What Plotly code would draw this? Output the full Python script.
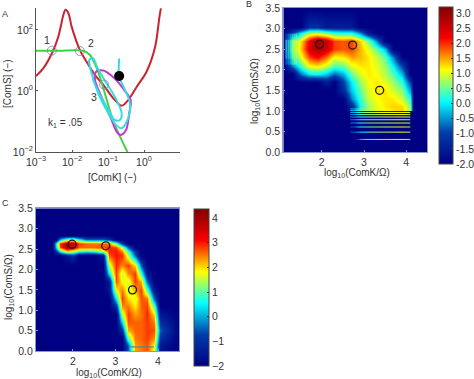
import numpy as np
import plotly.graph_objects as go

W, H = 474, 379
FONT = "Liberation Sans"
TXT = "#333333"

# ---------- Panel A (log10 decades)
red_lx = [-3.00,-2.80,-2.56,-2.38,-2.24,-2.18,-2.10,-2.01,-1.78,-1.57,-1.36,-1.13,-0.85,-0.62,-0.44,-0.20,0.07,0.31,0.43,0.47]
red_ly = [0.49,0.74,1.23,1.78,2.49,2.66,2.55,2.11,1.34,0.91,0.52,0.20,-0.24,-0.48,-0.30,0.14,0.63,1.45,2.44,2.71]
green_lx = [-3.0,-2.4,-1.69,-1.5,-1.31,-1.13,-0.85,-0.46]
green_ly = [1.32,1.32,1.32,1.18,0.74,0.09,-1.0,-2.0]
cyan_lx = [-0.69,-0.69,-0.57,-0.39,-0.44,-0.62,-0.78,-0.99,-1.27,-1.48,-1.52,-1.41,-1.31,-1.04,-0.81,-0.62,-0.67,-0.81,-0.99,-1.22,-1.41,-1.43]
cyan_ly = [1.07,0.47,0.14,-0.40,-0.90,-1.22,-1.11,-0.73,-0.08,0.69,1.02,1.07,0.80,0.25,-0.19,-0.73,-0.95,-0.95,-0.62,-0.13,0.36,0.58]
mag_lx = [-0.37,-0.41,-0.50,-0.65,-0.76,-0.94,-1.18,-1.36,-1.33,-1.13,-0.85,-0.69,-0.53,-0.37]
mag_ly = [-0.30,-0.73,-1.28,-1.44,-1.33,-0.84,-0.19,0.36,0.63,0.67,0.45,0.25,0.0,-0.30]
dot_lx = [-0.69]
dot_ly = [0.49]
ring_lx = [-2.56,-1.78,-1.11]
ring_ly = [1.32,1.31,0.21]
a_tick_x = [-3,-2,-1,0]
a_tick_y = [-2,0,2]

# ---------- Panel B
b_x = [1.1,1.3,1.5,1.7,1.9,2.1,2.3,2.5,2.7,2.9,3.1,3.3,3.5,3.7,3.9,4.1,4.17,4.5]
b_y = [0.0,1.0,1.02,1.1,1.3,1.5,1.7,1.9,2.1,2.3,2.5,2.7,2.9,3.05,3.5]
b_z = [
 [-2,-2,-2,-2,-2,-2,-2,-2,-2,-2,-2,-2,-2,-2,-2,-2,-2,-2],
 [-2,-2,-2,-2,-2,-2,-2,-2,-2,-2,-2,-2,-2,-2,-2,-2,-2,-2],
 [-2,-2,-2,-2,-2,-2,-2,-2,-1.5,0.1,0.7,1.0,1.2,1.3,1.3,0.6,-2,-2],
 [-2,-2,-2,-2,-2,-2,-2,-2,-1.5,0.1,0.7,1.0,1.2,1.3,1.3,0.6,-2,-2],
 [-2,-2,-2,-2,-2,-2,-2,-2,-0.6,0.3,0.9,1.1,1.2,1.2,0.9,0.2,-2,-2],
 [-2,-2,-2,-2,-2,-2,-2,-1.2,-0.2,0.5,1.0,1.2,1.2,0.9,0.6,-0.5,-2,-2],
 [-2,-2,-2,-2,-2,-1.5,-2,-1,0,0.7,1.1,1.2,1.0,0.7,0.2,-1,-2,-2],
 [-2,-2,-0.7,0,0.1,-0.2,-0.7,-0.3,0.5,1.0,1.2,1.1,0.8,0.4,-0.3,-2,-2,-2],
 [-2,-0.6,0.3,1.1,1.2,0.9,0.4,0.5,1.0,1.2,1.2,1.0,0.7,0,-1,-2,-2,-2],
 [-2,0,1.0,1.9,2.2,1.7,1.1,1.2,1.5,1.4,1.2,0.9,0.4,-0.6,-2,-2,-2,-2],
 [-2,0.3,1.3,2.4,2.8,2.5,1.9,1.8,1.9,1.4,1.0,0.5,-0.3,-2,-2,-2,-2,-2],
 [-2,0.3,1.2,2.3,2.9,2.6,1.9,1.8,1.9,1.3,0.6,-0.5,-2,-2,-2,-2,-2,-2],
 [-2,-1,0,0.8,0.9,0.6,0.3,0.2,0.2,-0.5,-1.5,-2,-2,-2,-2,-2,-2,-2],
 [-2,-2,-2,-1.2,-1.2,-1.5,-1.5,-1.5,-1.5,-2,-2,-2,-2,-2,-2,-2,-2,-2],
 [-2,-2,-2,-2,-2,-2,-2,-2,-2,-2,-2,-2,-2,-2,-2,-2,-2,-2],
]
b_band_x = [2.75,2.9,3.1,3.3,3.5,3.7,3.9,4.03]
b_band_y = [0.30,0.477,0.602,0.699,0.778,0.845,0.903,0.954,1.0,1.04]
b_band_z = [
 [-2,-0.3,0.3,0.5,0.6,0.8,1.1,0.7],
 [-0.8,0.0,0.4,0.6,0.7,0.9,1.2,0.8],
 [-0.8,0.2,0.5,0.7,0.8,0.9,1.1,0.8],
 [-0.6,0.3,0.5,0.7,0.8,0.9,1.0,0.8],
 [-0.6,0.2,0.6,0.7,0.8,1.0,1.1,0.8],
 [-0.5,0.3,0.6,0.8,0.9,1.0,1.1,0.9],
 [-0.5,0.3,0.7,0.8,1.0,1.0,1.1,0.9],
 [-0.4,0.4,0.8,1.0,1.0,1.1,1.2,0.9],
 [-0.3,0.5,0.8,1.0,1.1,1.2,1.3,0.9],
 [-0.3,0.5,0.8,1.0,1.1,1.2,1.3,0.9],
]
b_stripe_x = [1.17,1.22,1.27,1.32,1.37,1.41]
b_stripe_y = [2.2,2.35,2.5,2.65,2.8]
b_stripe_z = [
 [-0.6,-0.4,-0.2,0.3,0.8,0.7],
 [0.0,0.1,0.2,0.8,1.0,0.9],
 [0.2,0.3,0.4,0.9,1.1,1.0],
 [0.2,0.3,0.4,0.9,1.1,1.0],
 [-0.8,-0.6,-0.2,0.2,0.5,0.5],
]
b_ring_x = [1.95,2.73,3.37]
b_ring_y = [2.62,2.60,1.50]
b_cb_ticks = [3.0,2.5,2.0,1.5,1.0,0.5,0.0,-0.5,-1.0,-1.5,-2.0]

# ---------- Panel C
c_x = [1.1,1.5,1.6,1.7,1.85,2.0,2.15,2.3,2.5,2.7,2.85,3.0,3.15,3.3,3.45,3.6,3.75,3.9,4.05,4.5]
c_y = [0.0,0.15,0.3,0.5,0.7,0.9,1.1,1.3,1.5,1.7,1.9,2.1,2.35,2.45,2.55,2.65,2.75,2.85,3.5]
c_z = [
 [-2,-2,-2,-2,-2,-2,-2,-2,-2,-2,-2,-2,-2,-0.5,2.3,2.5,2.7,1.8,-1.5,-2],
 [-2,-2,-2,-2,-2,-2,-2,-2,-2,-2,-2,-2,-2,-0.5,2.3,2.5,2.7,1.8,-1.5,-2],
 [-2,-2,-2,-2,-2,-2,-2,-2,-2,-2,-2,-2,-2,1.0,2.5,2.6,2.8,2.4,-1,-2],
 [-2,-2,-2,-2,-2,-2,-2,-2,-2,-2,-2,-2,-1,2.2,2.6,2.6,2.8,2.7,-0.5,-2],
 [-2,-2,-2,-2,-2,-2,-2,-2,-2,-2,-2,-2,0.3,2.7,2.6,2.6,2.8,2.5,-1,-2],
 [-2,-2,-2,-2,-2,-2,-2,-2,-2,-2,-2,-2,1.5,2.8,2.3,2.5,2.9,2.0,-1.5,-2],
 [-2,-2,-2,-2,-2,-2,-2,-2,-2,-2,-2,-1,2.4,2.5,1.9,2.6,2.8,1.0,-2,-2],
 [-2,-2,-2,-2,-2,-2,-2,-2,-2,-2,-2,0.5,2.8,2.0,1.6,2.7,2.5,-0.5,-2,-2],
 [-2,-2,-2,-2,-2,-2,-2,-2,-2,-2,-1.5,1.8,2.5,1.5,2.2,2.8,1.0,-1.5,-2,-2],
 [-2,-2,-2,-2,-2,-2,-2,-2,-2,-2,-1.5,2.7,1.8,1.6,2.8,2.2,-0.5,-2,-2,-2],
 [-2,-2,-2,-2,-2,-2,-2,-2,-2,-2,0.5,2.8,1.5,2.4,2.8,0.8,-1.5,-2,-2,-2],
 [-2,-2,-2,-2,-2,-2,-2,-2,-2,-2,1.5,2.9,2.4,2.8,2.0,-0.5,-2,-2,-2,-2],
 [-2,-2,-2,-2,-1.5,-1,-2,-2,-2,-1.5,2.7,3.0,2.9,1.5,-0.5,-2,-2,-2,-2,-2],
 [-2,-2,-1,0.5,2.0,1.5,0.8,0.5,0.7,1.5,2.9,3.0,2.5,0.8,-1,-2,-2,-2,-2,-2],
 [-2,-2,0.3,2.7,3.9,3.6,2.6,2.6,2.6,2.7,2.9,2.8,1.5,-0.5,-2,-2,-2,-2,-2,-2],
 [-2,-2,0.5,2.9,3.9,3.7,2.8,2.6,2.5,2.6,2.5,1.0,-1,-2,-2,-2,-2,-2,-2,-2],
 [-2,-2,-2,0,1.3,1.5,0.5,-0.5,-0.5,-0.5,-1,-2,-2,-2,-2,-2,-2,-2,-2,-2],
 [-2,-2,-2,-2,-2,-2,-2,-2,-2,-2,-2,-2,-2,-2,-2,-2,-2,-2,-2,-2],
 [-2,-2,-2,-2,-2,-2,-2,-2,-2,-2,-2,-2,-2,-2,-2,-2,-2,-2,-2,-2],
]
c_ring_x = [1.98,2.77,3.40]
c_ring_y = [2.62,2.58,1.50]
c_bar_x = [3.35,3.9]
c_bar_y = [0.1,0.1]
c_cb_ticks = [4,3,2,1,0,-1,-2]
c_cb_text = ["4","3","2","1","0","\u22121","\u22122"]
heat_ticks_x = [2,3,4]
heat_ticks_y = [0,0.5,1.0,1.5,2.0,2.5,3.0,3.5]


def dom_x(a, b):
    return [a / W, b / W]


def dom_y(top, bottom):
    return [1 - bottom / H, 1 - top / H]


def cbar(left, top, bottom, thick, vals, text):
    return dict(
        x=left / W, xanchor="left", xpad=0, ypad=0,
        y=1 - bottom / H, yanchor="bottom",
        lenmode="pixels", len=bottom - top,
        thicknessmode="pixels", thickness=thick,
        tickvals=vals, ticktext=text, ticks="inside", ticklen=2,
        tickcolor="#333333", outlinecolor="#444444", outlinewidth=1,
        tickfont=dict(family=FONT, size=10.5, color=TXT),
    )


fig = go.Figure()

# Panel A
for lx, ly, col in [(red_lx, red_ly, "#c9232e"), (green_lx, green_ly, "#3fd43a"),
                    (mag_lx, mag_ly, "#c935d0"), (cyan_lx, cyan_ly, "#35dbe2")]:
    fig.add_trace(go.Scatter(
        x=10 ** np.array(lx), y=10 ** np.array(ly), mode="lines",
        line=dict(color=col, width=2, shape="spline", smoothing=0.9),
        xaxis="x", yaxis="y", hoverinfo="skip"))
fig.add_trace(go.Scatter(x=10 ** np.array(ring_lx), y=10 ** np.array(ring_ly), mode="markers",
                         marker=dict(size=9, color="rgba(0,0,0,0)", line=dict(color="#7a80b8", width=0.8)),
                         xaxis="x", yaxis="y", hoverinfo="skip"))
fig.add_trace(go.Scatter(x=10 ** np.array(dot_lx), y=10 ** np.array(dot_ly), mode="markers",
                         marker=dict(size=10, color="#000000"), xaxis="x", yaxis="y", hoverinfo="skip"))

# Panel B
fig.add_trace(go.Heatmap(x=b_x, y=b_y, z=b_z, colorscale="Jet", zmin=-2, zmax=3.2, zsmooth="best",
                         xaxis="x2", yaxis="y2", hoverinfo="skip",
                         colorbar=cbar(439, 7, 164, 14, b_cb_ticks, [f"{v:.1f}" for v in b_cb_ticks])))
for yc, row in zip(b_band_y, b_band_z):
    half = 0.009
    fig.add_trace(go.Heatmap(x=b_band_x, y=[yc - half, yc + half], z=[row, row], colorscale="Jet",
                             zmin=-2, zmax=3.2, zsmooth="best", showscale=False,
                             xaxis="x2", yaxis="y2", hoverinfo="skip"))
fig.add_trace(go.Heatmap(x=b_stripe_x, y=b_stripe_y, z=b_stripe_z, colorscale="Jet", zmin=-2, zmax=3.2,
                         showscale=False, xgap=1, xaxis="x2", yaxis="y2", hoverinfo="skip"))
fig.add_trace(go.Scatter(x=b_ring_x, y=b_ring_y, mode="markers",
                         marker=dict(size=8, color="rgba(0,0,0,0)", line=dict(color="#1a1a1a", width=1.3)),
                         xaxis="x2", yaxis="y2", hoverinfo="skip"))

# Panel C
fig.add_trace(go.Heatmap(x=c_x, y=c_y, z=c_z, colorscale="Jet", zmin=-2, zmax=4.37, zsmooth="best",
                         xaxis="x3", yaxis="y3", hoverinfo="skip",
                         colorbar=cbar(193.5, 209, 366, 14.5, c_cb_ticks, c_cb_text)))
fig.add_trace(go.Scatter(x=c_bar_x, y=c_bar_y, mode="lines", line=dict(color="#6f7f80", width=1.2),
                         xaxis="x3", yaxis="y3", hoverinfo="skip"))
fig.add_trace(go.Scatter(x=c_ring_x, y=c_ring_y, mode="markers",
                         marker=dict(size=8, color="rgba(0,0,0,0)", line=dict(color="#1a1a1a", width=1.3)),
                         xaxis="x3", yaxis="y3", hoverinfo="skip"))

tick_font = dict(family=FONT, size=10.5, color=TXT)
heat_axis = dict(showgrid=False, zeroline=False, showline=True, mirror=True, linecolor="#8a97cf", linewidth=1,
                 ticks="inside", ticklen=2, tickcolor="#8a97cf", tickfont=tick_font)
a_axis = dict(type="log", showgrid=False, zeroline=False, showline=True, linecolor="#555555", linewidth=1,
              ticks="inside", ticklen=2, tickcolor="#555555", tickfont=tick_font)


def sup(v):
    return "10<sup>" + str(v).replace("-", "\u2212") + "</sup>"


ann = []
def label(x, y, text, size=10.5):
    ann.append(dict(x=x / W, y=1 - y / H, xref="paper", yref="paper", text=text, showarrow=False,
                    font=dict(family=FONT, size=size, color=TXT), xanchor="center", yanchor="middle"))

def vlabel(x, y, text):
    ann.append(dict(x=x / W, y=1 - y / H, xref="paper", yref="paper", text=text, showarrow=False, textangle=-90,
                    font=dict(family=FONT, size=10, color=TXT), xanchor="center", yanchor="middle"))

label(5, 14, "A", 9); label(249, 4, "B", 9); label(5, 203, "C", 9)
label(47, 40, "1"); label(91, 43, "2"); label(94, 97, "3")
label(65, 123, "k<sub>1</sub> = .05", 10)
label(112, 178, "[ComK] (\u2212)", 10)
vlabel(7, 84, "[ComS] (\u2212)")
label(357, 173, "log<sub>10</sub>(ComK/\u03a9)", 10)
vlabel(255, 91, "log<sub>10</sub>(ComS/\u03a9)")
label(109, 373, "log<sub>10</sub>(ComK/\u03a9)", 10)
vlabel(9, 287, "log<sub>10</sub>(ComS/\u03a9)")

fig.update_layout(
    width=W, height=H, margin=dict(l=0, r=0, t=0, b=0, autoexpand=False), autosize=False,
    paper_bgcolor="white", plot_bgcolor="white", showlegend=False, annotations=ann,
    xaxis=dict(a_axis, domain=dom_x(36, 180), range=[-3, 1],
               tickvals=[10.0 ** v for v in a_tick_x], ticktext=[sup(v) for v in a_tick_x]),
    yaxis=dict(a_axis, domain=dom_y(8, 152), range=[-2, 2.72],
               tickvals=[10.0 ** v for v in a_tick_y], ticktext=[sup(v) for v in a_tick_y]),
    xaxis2=dict(heat_axis, domain=dom_x(283.3, 427), range=[1.09, 4.49], tickvals=heat_ticks_x, anchor="y2"),
    yaxis2=dict(heat_axis, domain=dom_y(8, 152), range=[0, 3.5], tickvals=heat_ticks_y,
                tickformat=".1f", anchor="x2"),
    xaxis3=dict(heat_axis, domain=dom_x(36, 179.3), range=[1.13, 4.5], tickvals=heat_ticks_x, anchor="y3"),
    yaxis3=dict(heat_axis, domain=dom_y(208.3, 351), range=[0, 3.5], tickvals=heat_ticks_y,
                tickformat=".1f", anchor="x3"),
)
fig.write_html("out.html", post_script="document.body.style.margin='0';",
               config={"displayModeBar": False, "staticPlot": True})
